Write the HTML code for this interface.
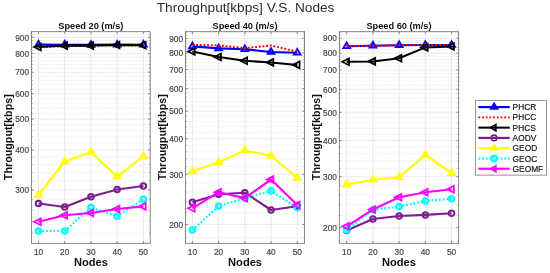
<!DOCTYPE html>
<html><head><meta charset="utf-8"><title>Throughput[kbps] V.S. Nodes</title>
<style>html,body{margin:0;padding:0;background:#fff;}svg{display:block;}</style></head>
<body>
<svg width="550" height="273" viewBox="0 0 550 273" font-family="'Liberation Sans', sans-serif">
<rect width="100%" height="100%" fill="#ffffff"/>
<text x="245.6" y="12.4" font-size="13.65" text-anchor="middle" fill="#2a2a2a">Throughput[kbps] V.S. Nodes</text>
<g>
<line x1="31.5" x2="150.2" y1="233.15" y2="233.15" stroke="#ebebeb" stroke-width="0.7" stroke-dasharray="2 1"/>
<line x1="31.5" x2="150.2" y1="221.05" y2="221.05" stroke="#ebebeb" stroke-width="0.7" stroke-dasharray="2 1"/>
<line x1="31.5" x2="150.2" y1="209.93" y2="209.93" stroke="#ebebeb" stroke-width="0.7" stroke-dasharray="2 1"/>
<line x1="31.5" x2="150.2" y1="199.63" y2="199.63" stroke="#ebebeb" stroke-width="0.7" stroke-dasharray="2 1"/>
<line x1="31.5" x2="150.2" y1="181.06" y2="181.06" stroke="#ebebeb" stroke-width="0.7" stroke-dasharray="2 1"/>
<line x1="31.5" x2="150.2" y1="172.64" y2="172.64" stroke="#ebebeb" stroke-width="0.7" stroke-dasharray="2 1"/>
<line x1="31.5" x2="150.2" y1="164.69" y2="164.69" stroke="#ebebeb" stroke-width="0.7" stroke-dasharray="2 1"/>
<line x1="31.5" x2="150.2" y1="157.18" y2="157.18" stroke="#ebebeb" stroke-width="0.7" stroke-dasharray="2 1"/>
<line x1="31.5" x2="150.2" y1="143.27" y2="143.27" stroke="#ebebeb" stroke-width="0.7" stroke-dasharray="2 1"/>
<line x1="31.5" x2="150.2" y1="136.80" y2="136.80" stroke="#ebebeb" stroke-width="0.7" stroke-dasharray="2 1"/>
<line x1="31.5" x2="150.2" y1="130.62" y2="130.62" stroke="#ebebeb" stroke-width="0.7" stroke-dasharray="2 1"/>
<line x1="31.5" x2="150.2" y1="124.70" y2="124.70" stroke="#ebebeb" stroke-width="0.7" stroke-dasharray="2 1"/>
<line x1="31.5" x2="150.2" y1="113.58" y2="113.58" stroke="#ebebeb" stroke-width="0.7" stroke-dasharray="2 1"/>
<line x1="31.5" x2="150.2" y1="108.33" y2="108.33" stroke="#ebebeb" stroke-width="0.7" stroke-dasharray="2 1"/>
<line x1="31.5" x2="150.2" y1="103.28" y2="103.28" stroke="#ebebeb" stroke-width="0.7" stroke-dasharray="2 1"/>
<line x1="31.5" x2="150.2" y1="98.40" y2="98.40" stroke="#ebebeb" stroke-width="0.7" stroke-dasharray="2 1"/>
<line x1="31.5" x2="150.2" y1="89.13" y2="89.13" stroke="#ebebeb" stroke-width="0.7" stroke-dasharray="2 1"/>
<line x1="31.5" x2="150.2" y1="84.72" y2="84.72" stroke="#ebebeb" stroke-width="0.7" stroke-dasharray="2 1"/>
<line x1="31.5" x2="150.2" y1="80.44" y2="80.44" stroke="#ebebeb" stroke-width="0.7" stroke-dasharray="2 1"/>
<line x1="31.5" x2="150.2" y1="76.29" y2="76.29" stroke="#ebebeb" stroke-width="0.7" stroke-dasharray="2 1"/>
<line x1="31.5" x2="150.2" y1="68.35" y2="68.35" stroke="#ebebeb" stroke-width="0.7" stroke-dasharray="2 1"/>
<line x1="31.5" x2="150.2" y1="64.54" y2="64.54" stroke="#ebebeb" stroke-width="0.7" stroke-dasharray="2 1"/>
<line x1="31.5" x2="150.2" y1="60.83" y2="60.83" stroke="#ebebeb" stroke-width="0.7" stroke-dasharray="2 1"/>
<line x1="31.5" x2="150.2" y1="57.22" y2="57.22" stroke="#ebebeb" stroke-width="0.7" stroke-dasharray="2 1"/>
<line x1="31.5" x2="150.2" y1="50.27" y2="50.27" stroke="#ebebeb" stroke-width="0.7" stroke-dasharray="2 1"/>
<line x1="31.5" x2="150.2" y1="46.92" y2="46.92" stroke="#ebebeb" stroke-width="0.7" stroke-dasharray="2 1"/>
<line x1="31.5" x2="150.2" y1="43.65" y2="43.65" stroke="#ebebeb" stroke-width="0.7" stroke-dasharray="2 1"/>
<line x1="31.5" x2="150.2" y1="40.45" y2="40.45" stroke="#ebebeb" stroke-width="0.7" stroke-dasharray="2 1"/>
<line x1="31.5" x2="150.2" y1="34.27" y2="34.27" stroke="#ebebeb" stroke-width="0.7" stroke-dasharray="2 1"/>
<line x1="31.5" x2="150.2" y1="190.04" y2="190.04" stroke="#e7e7e7" stroke-width="0.8"/>
<line x1="31.5" x2="150.2" y1="150.05" y2="150.05" stroke="#e7e7e7" stroke-width="0.8"/>
<line x1="31.5" x2="150.2" y1="119.03" y2="119.03" stroke="#e7e7e7" stroke-width="0.8"/>
<line x1="31.5" x2="150.2" y1="93.69" y2="93.69" stroke="#e7e7e7" stroke-width="0.8"/>
<line x1="31.5" x2="150.2" y1="72.26" y2="72.26" stroke="#e7e7e7" stroke-width="0.8"/>
<line x1="31.5" x2="150.2" y1="53.70" y2="53.70" stroke="#e7e7e7" stroke-width="0.8"/>
<line x1="31.5" x2="150.2" y1="37.33" y2="37.33" stroke="#e7e7e7" stroke-width="0.8"/>
<line x1="38.50" x2="38.50" y1="31.7" y2="243.3" stroke="#e2e2e2" stroke-width="0.8"/>
<line x1="64.72" x2="64.72" y1="31.7" y2="243.3" stroke="#e2e2e2" stroke-width="0.8"/>
<line x1="90.94" x2="90.94" y1="31.7" y2="243.3" stroke="#e2e2e2" stroke-width="0.8"/>
<line x1="117.16" x2="117.16" y1="31.7" y2="243.3" stroke="#e2e2e2" stroke-width="0.8"/>
<line x1="143.38" x2="143.38" y1="31.7" y2="243.3" stroke="#e2e2e2" stroke-width="0.8"/>
<polyline points="38.50,44.60 64.72,44.70 90.94,44.90 117.16,44.60 143.38,44.70" fill="none" stroke="#0000ff" stroke-width="2.15" stroke-linejoin="round"/>
<polygon points="38.50,40.91 35.22,46.43 41.78,46.43" fill="none" stroke="#0000ff" stroke-width="1.95" stroke-linejoin="miter"/>
<polygon points="64.72,41.01 61.44,46.53 68.00,46.53" fill="none" stroke="#0000ff" stroke-width="1.95" stroke-linejoin="miter"/>
<polygon points="90.94,41.21 87.66,46.73 94.22,46.73" fill="none" stroke="#0000ff" stroke-width="1.95" stroke-linejoin="miter"/>
<polygon points="117.16,40.91 113.88,46.43 120.44,46.43" fill="none" stroke="#0000ff" stroke-width="1.95" stroke-linejoin="miter"/>
<polygon points="143.38,41.01 140.10,46.53 146.66,46.53" fill="none" stroke="#0000ff" stroke-width="1.95" stroke-linejoin="miter"/>
<polyline points="38.50,47.20 64.72,46.20 90.94,46.00 117.16,45.20 143.38,45.40" fill="none" stroke="#ff0000" stroke-width="1.95" stroke-dasharray="1.9 1.8" stroke-linejoin="round"/>
<polyline points="38.50,47.00 64.72,45.60 90.94,45.60 117.16,45.00 143.38,45.20" fill="none" stroke="#000000" stroke-width="2.05" stroke-linejoin="round"/>
<polygon points="34.11,47.00 40.79,43.62 40.79,50.38" fill="none" stroke="#000000" stroke-width="1.75" stroke-linejoin="miter"/>
<polygon points="60.33,45.60 67.01,42.22 67.01,48.98" fill="none" stroke="#000000" stroke-width="1.75" stroke-linejoin="miter"/>
<polygon points="86.55,45.60 93.23,42.22 93.23,48.98" fill="none" stroke="#000000" stroke-width="1.75" stroke-linejoin="miter"/>
<polygon points="112.77,45.00 119.45,41.62 119.45,48.38" fill="none" stroke="#000000" stroke-width="1.75" stroke-linejoin="miter"/>
<polygon points="138.99,45.20 145.67,41.82 145.67,48.58" fill="none" stroke="#000000" stroke-width="1.75" stroke-linejoin="miter"/>
<polyline points="38.50,203.50 64.72,207.00 90.94,196.70 117.16,189.50 143.38,186.00" fill="none" stroke="#7e1e8e" stroke-width="2.15" stroke-linejoin="round"/>
<circle cx="38.50" cy="203.50" r="2.75" fill="none" stroke="#7e1e8e" stroke-width="2.00"/>
<circle cx="64.72" cy="207.00" r="2.75" fill="none" stroke="#7e1e8e" stroke-width="2.00"/>
<circle cx="90.94" cy="196.70" r="2.75" fill="none" stroke="#7e1e8e" stroke-width="2.00"/>
<circle cx="117.16" cy="189.50" r="2.75" fill="none" stroke="#7e1e8e" stroke-width="2.00"/>
<circle cx="143.38" cy="186.00" r="2.75" fill="none" stroke="#7e1e8e" stroke-width="2.00"/>
<polyline points="38.50,195.00 64.72,161.50 90.94,152.20 117.16,176.70 143.38,156.50" fill="none" stroke="#ffff00" stroke-width="2.15" stroke-linejoin="round"/>
<polygon points="38.50,191.31 35.22,196.82 41.78,196.82" fill="none" stroke="#ffff00" stroke-width="1.95" stroke-linejoin="miter"/>
<polygon points="64.72,157.81 61.44,163.32 68.00,163.32" fill="none" stroke="#ffff00" stroke-width="1.95" stroke-linejoin="miter"/>
<polygon points="90.94,148.51 87.66,154.02 94.22,154.02" fill="none" stroke="#ffff00" stroke-width="1.95" stroke-linejoin="miter"/>
<polygon points="117.16,173.01 113.88,178.52 120.44,178.52" fill="none" stroke="#ffff00" stroke-width="1.95" stroke-linejoin="miter"/>
<polygon points="143.38,152.81 140.10,158.32 146.66,158.32" fill="none" stroke="#ffff00" stroke-width="1.95" stroke-linejoin="miter"/>
<polyline points="38.50,231.00 64.72,231.00 90.94,207.50 117.16,216.30 143.38,199.30" fill="none" stroke="#00ffff" stroke-width="2.15" stroke-dasharray="1.9 1.8" stroke-linejoin="round"/>
<circle cx="38.50" cy="231.00" r="2.65" fill="none" stroke="#00ffff" stroke-width="2.30"/>
<circle cx="64.72" cy="231.00" r="2.65" fill="none" stroke="#00ffff" stroke-width="2.30"/>
<circle cx="90.94" cy="207.50" r="2.65" fill="none" stroke="#00ffff" stroke-width="2.30"/>
<circle cx="117.16" cy="216.30" r="2.65" fill="none" stroke="#00ffff" stroke-width="2.30"/>
<circle cx="143.38" cy="199.30" r="2.65" fill="none" stroke="#00ffff" stroke-width="2.30"/>
<polyline points="38.50,221.80 64.72,215.20 90.94,213.00 117.16,209.00 143.38,206.40" fill="none" stroke="#ff00ff" stroke-width="2.15" stroke-linejoin="round"/>
<polygon points="34.11,221.80 40.79,218.42 40.79,225.18" fill="none" stroke="#ff00ff" stroke-width="1.75" stroke-linejoin="miter"/>
<polygon points="60.33,215.20 67.01,211.82 67.01,218.58" fill="none" stroke="#ff00ff" stroke-width="1.75" stroke-linejoin="miter"/>
<polygon points="86.55,213.00 93.23,209.62 93.23,216.38" fill="none" stroke="#ff00ff" stroke-width="1.75" stroke-linejoin="miter"/>
<polygon points="112.77,209.00 119.45,205.62 119.45,212.38" fill="none" stroke="#ff00ff" stroke-width="1.75" stroke-linejoin="miter"/>
<polygon points="138.99,206.40 145.67,203.02 145.67,209.78" fill="none" stroke="#ff00ff" stroke-width="1.75" stroke-linejoin="miter"/>
<rect x="31.5" y="31.7" width="118.7" height="211.6" fill="none" stroke="#6a6a6a" stroke-width="0.8"/>
<line x1="38.50" x2="38.50" y1="243.3" y2="241.1" stroke="#6a6a6a" stroke-width="0.8"/>
<line x1="38.50" x2="38.50" y1="31.7" y2="33.9" stroke="#6a6a6a" stroke-width="0.8"/>
<line x1="64.72" x2="64.72" y1="243.3" y2="241.1" stroke="#6a6a6a" stroke-width="0.8"/>
<line x1="64.72" x2="64.72" y1="31.7" y2="33.9" stroke="#6a6a6a" stroke-width="0.8"/>
<line x1="90.94" x2="90.94" y1="243.3" y2="241.1" stroke="#6a6a6a" stroke-width="0.8"/>
<line x1="90.94" x2="90.94" y1="31.7" y2="33.9" stroke="#6a6a6a" stroke-width="0.8"/>
<line x1="117.16" x2="117.16" y1="243.3" y2="241.1" stroke="#6a6a6a" stroke-width="0.8"/>
<line x1="117.16" x2="117.16" y1="31.7" y2="33.9" stroke="#6a6a6a" stroke-width="0.8"/>
<line x1="143.38" x2="143.38" y1="243.3" y2="241.1" stroke="#6a6a6a" stroke-width="0.8"/>
<line x1="143.38" x2="143.38" y1="31.7" y2="33.9" stroke="#6a6a6a" stroke-width="0.8"/>
<line x1="31.5" x2="33.7" y1="190.04" y2="190.04" stroke="#6a6a6a" stroke-width="0.8"/>
<line x1="150.2" x2="148.0" y1="190.04" y2="190.04" stroke="#6a6a6a" stroke-width="0.8"/>
<line x1="31.5" x2="33.7" y1="150.05" y2="150.05" stroke="#6a6a6a" stroke-width="0.8"/>
<line x1="150.2" x2="148.0" y1="150.05" y2="150.05" stroke="#6a6a6a" stroke-width="0.8"/>
<line x1="31.5" x2="33.7" y1="119.03" y2="119.03" stroke="#6a6a6a" stroke-width="0.8"/>
<line x1="150.2" x2="148.0" y1="119.03" y2="119.03" stroke="#6a6a6a" stroke-width="0.8"/>
<line x1="31.5" x2="33.7" y1="93.69" y2="93.69" stroke="#6a6a6a" stroke-width="0.8"/>
<line x1="150.2" x2="148.0" y1="93.69" y2="93.69" stroke="#6a6a6a" stroke-width="0.8"/>
<line x1="31.5" x2="33.7" y1="72.26" y2="72.26" stroke="#6a6a6a" stroke-width="0.8"/>
<line x1="150.2" x2="148.0" y1="72.26" y2="72.26" stroke="#6a6a6a" stroke-width="0.8"/>
<line x1="31.5" x2="33.7" y1="53.70" y2="53.70" stroke="#6a6a6a" stroke-width="0.8"/>
<line x1="150.2" x2="148.0" y1="53.70" y2="53.70" stroke="#6a6a6a" stroke-width="0.8"/>
<line x1="31.5" x2="33.7" y1="37.33" y2="37.33" stroke="#6a6a6a" stroke-width="0.8"/>
<line x1="150.2" x2="148.0" y1="37.33" y2="37.33" stroke="#6a6a6a" stroke-width="0.8"/>
<line x1="31.5" x2="32.7" y1="233.15" y2="233.15" stroke="#6a6a6a" stroke-width="0.6"/>
<line x1="150.2" x2="149.0" y1="233.15" y2="233.15" stroke="#6a6a6a" stroke-width="0.6"/>
<line x1="31.5" x2="32.7" y1="221.05" y2="221.05" stroke="#6a6a6a" stroke-width="0.6"/>
<line x1="150.2" x2="149.0" y1="221.05" y2="221.05" stroke="#6a6a6a" stroke-width="0.6"/>
<line x1="31.5" x2="32.7" y1="209.93" y2="209.93" stroke="#6a6a6a" stroke-width="0.6"/>
<line x1="150.2" x2="149.0" y1="209.93" y2="209.93" stroke="#6a6a6a" stroke-width="0.6"/>
<line x1="31.5" x2="32.7" y1="199.63" y2="199.63" stroke="#6a6a6a" stroke-width="0.6"/>
<line x1="150.2" x2="149.0" y1="199.63" y2="199.63" stroke="#6a6a6a" stroke-width="0.6"/>
<line x1="31.5" x2="32.7" y1="181.06" y2="181.06" stroke="#6a6a6a" stroke-width="0.6"/>
<line x1="150.2" x2="149.0" y1="181.06" y2="181.06" stroke="#6a6a6a" stroke-width="0.6"/>
<line x1="31.5" x2="32.7" y1="172.64" y2="172.64" stroke="#6a6a6a" stroke-width="0.6"/>
<line x1="150.2" x2="149.0" y1="172.64" y2="172.64" stroke="#6a6a6a" stroke-width="0.6"/>
<line x1="31.5" x2="32.7" y1="164.69" y2="164.69" stroke="#6a6a6a" stroke-width="0.6"/>
<line x1="150.2" x2="149.0" y1="164.69" y2="164.69" stroke="#6a6a6a" stroke-width="0.6"/>
<line x1="31.5" x2="32.7" y1="157.18" y2="157.18" stroke="#6a6a6a" stroke-width="0.6"/>
<line x1="150.2" x2="149.0" y1="157.18" y2="157.18" stroke="#6a6a6a" stroke-width="0.6"/>
<line x1="31.5" x2="32.7" y1="143.27" y2="143.27" stroke="#6a6a6a" stroke-width="0.6"/>
<line x1="150.2" x2="149.0" y1="143.27" y2="143.27" stroke="#6a6a6a" stroke-width="0.6"/>
<line x1="31.5" x2="32.7" y1="136.80" y2="136.80" stroke="#6a6a6a" stroke-width="0.6"/>
<line x1="150.2" x2="149.0" y1="136.80" y2="136.80" stroke="#6a6a6a" stroke-width="0.6"/>
<line x1="31.5" x2="32.7" y1="130.62" y2="130.62" stroke="#6a6a6a" stroke-width="0.6"/>
<line x1="150.2" x2="149.0" y1="130.62" y2="130.62" stroke="#6a6a6a" stroke-width="0.6"/>
<line x1="31.5" x2="32.7" y1="124.70" y2="124.70" stroke="#6a6a6a" stroke-width="0.6"/>
<line x1="150.2" x2="149.0" y1="124.70" y2="124.70" stroke="#6a6a6a" stroke-width="0.6"/>
<line x1="31.5" x2="32.7" y1="113.58" y2="113.58" stroke="#6a6a6a" stroke-width="0.6"/>
<line x1="150.2" x2="149.0" y1="113.58" y2="113.58" stroke="#6a6a6a" stroke-width="0.6"/>
<line x1="31.5" x2="32.7" y1="108.33" y2="108.33" stroke="#6a6a6a" stroke-width="0.6"/>
<line x1="150.2" x2="149.0" y1="108.33" y2="108.33" stroke="#6a6a6a" stroke-width="0.6"/>
<line x1="31.5" x2="32.7" y1="103.28" y2="103.28" stroke="#6a6a6a" stroke-width="0.6"/>
<line x1="150.2" x2="149.0" y1="103.28" y2="103.28" stroke="#6a6a6a" stroke-width="0.6"/>
<line x1="31.5" x2="32.7" y1="98.40" y2="98.40" stroke="#6a6a6a" stroke-width="0.6"/>
<line x1="150.2" x2="149.0" y1="98.40" y2="98.40" stroke="#6a6a6a" stroke-width="0.6"/>
<line x1="31.5" x2="32.7" y1="89.13" y2="89.13" stroke="#6a6a6a" stroke-width="0.6"/>
<line x1="150.2" x2="149.0" y1="89.13" y2="89.13" stroke="#6a6a6a" stroke-width="0.6"/>
<line x1="31.5" x2="32.7" y1="84.72" y2="84.72" stroke="#6a6a6a" stroke-width="0.6"/>
<line x1="150.2" x2="149.0" y1="84.72" y2="84.72" stroke="#6a6a6a" stroke-width="0.6"/>
<line x1="31.5" x2="32.7" y1="80.44" y2="80.44" stroke="#6a6a6a" stroke-width="0.6"/>
<line x1="150.2" x2="149.0" y1="80.44" y2="80.44" stroke="#6a6a6a" stroke-width="0.6"/>
<line x1="31.5" x2="32.7" y1="76.29" y2="76.29" stroke="#6a6a6a" stroke-width="0.6"/>
<line x1="150.2" x2="149.0" y1="76.29" y2="76.29" stroke="#6a6a6a" stroke-width="0.6"/>
<line x1="31.5" x2="32.7" y1="68.35" y2="68.35" stroke="#6a6a6a" stroke-width="0.6"/>
<line x1="150.2" x2="149.0" y1="68.35" y2="68.35" stroke="#6a6a6a" stroke-width="0.6"/>
<line x1="31.5" x2="32.7" y1="64.54" y2="64.54" stroke="#6a6a6a" stroke-width="0.6"/>
<line x1="150.2" x2="149.0" y1="64.54" y2="64.54" stroke="#6a6a6a" stroke-width="0.6"/>
<line x1="31.5" x2="32.7" y1="60.83" y2="60.83" stroke="#6a6a6a" stroke-width="0.6"/>
<line x1="150.2" x2="149.0" y1="60.83" y2="60.83" stroke="#6a6a6a" stroke-width="0.6"/>
<line x1="31.5" x2="32.7" y1="57.22" y2="57.22" stroke="#6a6a6a" stroke-width="0.6"/>
<line x1="150.2" x2="149.0" y1="57.22" y2="57.22" stroke="#6a6a6a" stroke-width="0.6"/>
<line x1="31.5" x2="32.7" y1="50.27" y2="50.27" stroke="#6a6a6a" stroke-width="0.6"/>
<line x1="150.2" x2="149.0" y1="50.27" y2="50.27" stroke="#6a6a6a" stroke-width="0.6"/>
<line x1="31.5" x2="32.7" y1="46.92" y2="46.92" stroke="#6a6a6a" stroke-width="0.6"/>
<line x1="150.2" x2="149.0" y1="46.92" y2="46.92" stroke="#6a6a6a" stroke-width="0.6"/>
<line x1="31.5" x2="32.7" y1="43.65" y2="43.65" stroke="#6a6a6a" stroke-width="0.6"/>
<line x1="150.2" x2="149.0" y1="43.65" y2="43.65" stroke="#6a6a6a" stroke-width="0.6"/>
<line x1="31.5" x2="32.7" y1="40.45" y2="40.45" stroke="#6a6a6a" stroke-width="0.6"/>
<line x1="150.2" x2="149.0" y1="40.45" y2="40.45" stroke="#6a6a6a" stroke-width="0.6"/>
<line x1="31.5" x2="32.7" y1="34.27" y2="34.27" stroke="#6a6a6a" stroke-width="0.6"/>
<line x1="150.2" x2="149.0" y1="34.27" y2="34.27" stroke="#6a6a6a" stroke-width="0.6"/>
<text x="29.1" y="40.53" font-size="8.3" text-anchor="end" fill="#484848" stroke="#484848" stroke-width="0.2">900</text>
<text x="29.1" y="56.90" font-size="8.3" text-anchor="end" fill="#484848" stroke="#484848" stroke-width="0.2">800</text>
<text x="29.1" y="75.46" font-size="8.3" text-anchor="end" fill="#484848" stroke="#484848" stroke-width="0.2">700</text>
<text x="29.1" y="96.89" font-size="8.3" text-anchor="end" fill="#484848" stroke="#484848" stroke-width="0.2">600</text>
<text x="29.1" y="122.23" font-size="8.3" text-anchor="end" fill="#484848" stroke="#484848" stroke-width="0.2">500</text>
<text x="29.1" y="153.25" font-size="8.3" text-anchor="end" fill="#484848" stroke="#484848" stroke-width="0.2">400</text>
<text x="29.1" y="193.24" font-size="8.3" text-anchor="end" fill="#484848" stroke="#484848" stroke-width="0.2">300</text>
<text x="38.50" y="254.5" font-size="8.3" text-anchor="middle" fill="#484848" stroke="#484848" stroke-width="0.2">10</text>
<text x="64.72" y="254.5" font-size="8.3" text-anchor="middle" fill="#484848" stroke="#484848" stroke-width="0.2">20</text>
<text x="90.94" y="254.5" font-size="8.3" text-anchor="middle" fill="#484848" stroke="#484848" stroke-width="0.2">30</text>
<text x="117.16" y="254.5" font-size="8.3" text-anchor="middle" fill="#484848" stroke="#484848" stroke-width="0.2">40</text>
<text x="143.38" y="254.5" font-size="8.3" text-anchor="middle" fill="#484848" stroke="#484848" stroke-width="0.2">50</text>
<text x="90.85" y="29.1" font-size="9.23" font-weight="bold" text-anchor="middle" fill="#111">Speed 20 (m/s)</text>
<text x="90.85" y="266.3" font-size="11.1" font-weight="bold" text-anchor="middle" fill="#111">Nodes</text>
<text transform="translate(12.00,137.2) rotate(-90)" font-size="10.75" font-weight="bold" text-anchor="middle" fill="#111">Througput[kbps]</text>
</g>
<g>
<line x1="185.5" x2="304.6" y1="237.52" y2="237.52" stroke="#ebebeb" stroke-width="0.7" stroke-dasharray="2 1"/>
<line x1="185.5" x2="304.6" y1="212.69" y2="212.69" stroke="#ebebeb" stroke-width="0.7" stroke-dasharray="2 1"/>
<line x1="185.5" x2="304.6" y1="201.93" y2="201.93" stroke="#ebebeb" stroke-width="0.7" stroke-dasharray="2 1"/>
<line x1="185.5" x2="304.6" y1="192.03" y2="192.03" stroke="#ebebeb" stroke-width="0.7" stroke-dasharray="2 1"/>
<line x1="185.5" x2="304.6" y1="182.86" y2="182.86" stroke="#ebebeb" stroke-width="0.7" stroke-dasharray="2 1"/>
<line x1="185.5" x2="304.6" y1="166.35" y2="166.35" stroke="#ebebeb" stroke-width="0.7" stroke-dasharray="2 1"/>
<line x1="185.5" x2="304.6" y1="158.85" y2="158.85" stroke="#ebebeb" stroke-width="0.7" stroke-dasharray="2 1"/>
<line x1="185.5" x2="304.6" y1="151.78" y2="151.78" stroke="#ebebeb" stroke-width="0.7" stroke-dasharray="2 1"/>
<line x1="185.5" x2="304.6" y1="145.09" y2="145.09" stroke="#ebebeb" stroke-width="0.7" stroke-dasharray="2 1"/>
<line x1="185.5" x2="304.6" y1="132.71" y2="132.71" stroke="#ebebeb" stroke-width="0.7" stroke-dasharray="2 1"/>
<line x1="185.5" x2="304.6" y1="126.95" y2="126.95" stroke="#ebebeb" stroke-width="0.7" stroke-dasharray="2 1"/>
<line x1="185.5" x2="304.6" y1="121.45" y2="121.45" stroke="#ebebeb" stroke-width="0.7" stroke-dasharray="2 1"/>
<line x1="185.5" x2="304.6" y1="116.19" y2="116.19" stroke="#ebebeb" stroke-width="0.7" stroke-dasharray="2 1"/>
<line x1="185.5" x2="304.6" y1="106.29" y2="106.29" stroke="#ebebeb" stroke-width="0.7" stroke-dasharray="2 1"/>
<line x1="185.5" x2="304.6" y1="101.62" y2="101.62" stroke="#ebebeb" stroke-width="0.7" stroke-dasharray="2 1"/>
<line x1="185.5" x2="304.6" y1="97.12" y2="97.12" stroke="#ebebeb" stroke-width="0.7" stroke-dasharray="2 1"/>
<line x1="185.5" x2="304.6" y1="92.78" y2="92.78" stroke="#ebebeb" stroke-width="0.7" stroke-dasharray="2 1"/>
<line x1="185.5" x2="304.6" y1="84.53" y2="84.53" stroke="#ebebeb" stroke-width="0.7" stroke-dasharray="2 1"/>
<line x1="185.5" x2="304.6" y1="80.60" y2="80.60" stroke="#ebebeb" stroke-width="0.7" stroke-dasharray="2 1"/>
<line x1="185.5" x2="304.6" y1="76.80" y2="76.80" stroke="#ebebeb" stroke-width="0.7" stroke-dasharray="2 1"/>
<line x1="185.5" x2="304.6" y1="73.10" y2="73.10" stroke="#ebebeb" stroke-width="0.7" stroke-dasharray="2 1"/>
<line x1="185.5" x2="304.6" y1="66.03" y2="66.03" stroke="#ebebeb" stroke-width="0.7" stroke-dasharray="2 1"/>
<line x1="185.5" x2="304.6" y1="62.64" y2="62.64" stroke="#ebebeb" stroke-width="0.7" stroke-dasharray="2 1"/>
<line x1="185.5" x2="304.6" y1="59.34" y2="59.34" stroke="#ebebeb" stroke-width="0.7" stroke-dasharray="2 1"/>
<line x1="185.5" x2="304.6" y1="56.13" y2="56.13" stroke="#ebebeb" stroke-width="0.7" stroke-dasharray="2 1"/>
<line x1="185.5" x2="304.6" y1="49.95" y2="49.95" stroke="#ebebeb" stroke-width="0.7" stroke-dasharray="2 1"/>
<line x1="185.5" x2="304.6" y1="46.96" y2="46.96" stroke="#ebebeb" stroke-width="0.7" stroke-dasharray="2 1"/>
<line x1="185.5" x2="304.6" y1="44.05" y2="44.05" stroke="#ebebeb" stroke-width="0.7" stroke-dasharray="2 1"/>
<line x1="185.5" x2="304.6" y1="41.21" y2="41.21" stroke="#ebebeb" stroke-width="0.7" stroke-dasharray="2 1"/>
<line x1="185.5" x2="304.6" y1="35.71" y2="35.71" stroke="#ebebeb" stroke-width="0.7" stroke-dasharray="2 1"/>
<line x1="185.5" x2="304.6" y1="33.05" y2="33.05" stroke="#ebebeb" stroke-width="0.7" stroke-dasharray="2 1"/>
<line x1="185.5" x2="304.6" y1="224.48" y2="224.48" stroke="#e7e7e7" stroke-width="0.8"/>
<line x1="185.5" x2="304.6" y1="174.33" y2="174.33" stroke="#e7e7e7" stroke-width="0.8"/>
<line x1="185.5" x2="304.6" y1="138.74" y2="138.74" stroke="#e7e7e7" stroke-width="0.8"/>
<line x1="185.5" x2="304.6" y1="111.14" y2="111.14" stroke="#e7e7e7" stroke-width="0.8"/>
<line x1="185.5" x2="304.6" y1="88.59" y2="88.59" stroke="#e7e7e7" stroke-width="0.8"/>
<line x1="185.5" x2="304.6" y1="69.52" y2="69.52" stroke="#e7e7e7" stroke-width="0.8"/>
<line x1="185.5" x2="304.6" y1="53.00" y2="53.00" stroke="#e7e7e7" stroke-width="0.8"/>
<line x1="185.5" x2="304.6" y1="38.43" y2="38.43" stroke="#e7e7e7" stroke-width="0.8"/>
<line x1="192.40" x2="192.40" y1="31.7" y2="243.3" stroke="#e2e2e2" stroke-width="0.8"/>
<line x1="218.62" x2="218.62" y1="31.7" y2="243.3" stroke="#e2e2e2" stroke-width="0.8"/>
<line x1="244.84" x2="244.84" y1="31.7" y2="243.3" stroke="#e2e2e2" stroke-width="0.8"/>
<line x1="271.06" x2="271.06" y1="31.7" y2="243.3" stroke="#e2e2e2" stroke-width="0.8"/>
<line x1="297.28" x2="297.28" y1="31.7" y2="243.3" stroke="#e2e2e2" stroke-width="0.8"/>
<polyline points="192.40,46.40 218.62,48.40 244.84,49.30 271.06,52.00 297.28,52.80" fill="none" stroke="#0000ff" stroke-width="2.15" stroke-linejoin="round"/>
<polygon points="192.40,42.71 189.12,48.23 195.68,48.23" fill="none" stroke="#0000ff" stroke-width="1.95" stroke-linejoin="miter"/>
<polygon points="218.62,44.71 215.34,50.23 221.90,50.23" fill="none" stroke="#0000ff" stroke-width="1.95" stroke-linejoin="miter"/>
<polygon points="244.84,45.61 241.56,51.12 248.12,51.12" fill="none" stroke="#0000ff" stroke-width="1.95" stroke-linejoin="miter"/>
<polygon points="271.06,48.31 267.78,53.83 274.34,53.83" fill="none" stroke="#0000ff" stroke-width="1.95" stroke-linejoin="miter"/>
<polygon points="297.28,49.11 294.00,54.62 300.56,54.62" fill="none" stroke="#0000ff" stroke-width="1.95" stroke-linejoin="miter"/>
<polyline points="192.40,44.90 218.62,45.40 244.84,48.20 271.06,45.50 297.28,51.70" fill="none" stroke="#ff0000" stroke-width="1.95" stroke-dasharray="1.9 1.8" stroke-linejoin="round"/>
<polyline points="192.40,51.50 218.62,57.00 244.84,60.80 271.06,62.40 297.28,64.90" fill="none" stroke="#000000" stroke-width="2.05" stroke-linejoin="round"/>
<polygon points="188.01,51.50 194.69,48.12 194.69,54.88" fill="none" stroke="#000000" stroke-width="1.75" stroke-linejoin="miter"/>
<polygon points="214.23,57.00 220.91,53.62 220.91,60.38" fill="none" stroke="#000000" stroke-width="1.75" stroke-linejoin="miter"/>
<polygon points="240.45,60.80 247.13,57.42 247.13,64.18" fill="none" stroke="#000000" stroke-width="1.75" stroke-linejoin="miter"/>
<polygon points="266.67,62.40 273.35,59.02 273.35,65.78" fill="none" stroke="#000000" stroke-width="1.75" stroke-linejoin="miter"/>
<polygon points="292.89,64.90 299.57,61.52 299.57,68.28" fill="none" stroke="#000000" stroke-width="1.75" stroke-linejoin="miter"/>
<polyline points="192.40,202.30 218.62,194.30 244.84,192.70 271.06,210.00 297.28,206.30" fill="none" stroke="#7e1e8e" stroke-width="2.15" stroke-linejoin="round"/>
<circle cx="192.40" cy="202.30" r="2.75" fill="none" stroke="#7e1e8e" stroke-width="2.00"/>
<circle cx="218.62" cy="194.30" r="2.75" fill="none" stroke="#7e1e8e" stroke-width="2.00"/>
<circle cx="244.84" cy="192.70" r="2.75" fill="none" stroke="#7e1e8e" stroke-width="2.00"/>
<circle cx="271.06" cy="210.00" r="2.75" fill="none" stroke="#7e1e8e" stroke-width="2.00"/>
<circle cx="297.28" cy="206.30" r="2.75" fill="none" stroke="#7e1e8e" stroke-width="2.00"/>
<polyline points="192.40,171.40 218.62,162.20 244.84,150.50 271.06,156.00 297.28,178.00" fill="none" stroke="#ffff00" stroke-width="2.15" stroke-linejoin="round"/>
<polygon points="192.40,167.71 189.12,173.22 195.68,173.22" fill="none" stroke="#ffff00" stroke-width="1.95" stroke-linejoin="miter"/>
<polygon points="218.62,158.51 215.34,164.02 221.90,164.02" fill="none" stroke="#ffff00" stroke-width="1.95" stroke-linejoin="miter"/>
<polygon points="244.84,146.81 241.56,152.32 248.12,152.32" fill="none" stroke="#ffff00" stroke-width="1.95" stroke-linejoin="miter"/>
<polygon points="271.06,152.31 267.78,157.82 274.34,157.82" fill="none" stroke="#ffff00" stroke-width="1.95" stroke-linejoin="miter"/>
<polygon points="297.28,174.31 294.00,179.82 300.56,179.82" fill="none" stroke="#ffff00" stroke-width="1.95" stroke-linejoin="miter"/>
<polyline points="192.40,230.00 218.62,206.20 244.84,198.20 271.06,190.90 297.28,207.80" fill="none" stroke="#00ffff" stroke-width="2.15" stroke-dasharray="1.9 1.8" stroke-linejoin="round"/>
<circle cx="192.40" cy="230.00" r="2.65" fill="none" stroke="#00ffff" stroke-width="2.30"/>
<circle cx="218.62" cy="206.20" r="2.65" fill="none" stroke="#00ffff" stroke-width="2.30"/>
<circle cx="244.84" cy="198.20" r="2.65" fill="none" stroke="#00ffff" stroke-width="2.30"/>
<circle cx="271.06" cy="190.90" r="2.65" fill="none" stroke="#00ffff" stroke-width="2.30"/>
<circle cx="297.28" cy="207.80" r="2.65" fill="none" stroke="#00ffff" stroke-width="2.30"/>
<polyline points="192.40,208.30 218.62,192.20 244.84,198.10 271.06,179.50 297.28,205.00" fill="none" stroke="#ff00ff" stroke-width="2.15" stroke-linejoin="round"/>
<polygon points="188.01,208.30 194.69,204.92 194.69,211.68" fill="none" stroke="#ff00ff" stroke-width="1.75" stroke-linejoin="miter"/>
<polygon points="214.23,192.20 220.91,188.82 220.91,195.58" fill="none" stroke="#ff00ff" stroke-width="1.75" stroke-linejoin="miter"/>
<polygon points="240.45,198.10 247.13,194.72 247.13,201.48" fill="none" stroke="#ff00ff" stroke-width="1.75" stroke-linejoin="miter"/>
<polygon points="266.67,179.50 273.35,176.12 273.35,182.88" fill="none" stroke="#ff00ff" stroke-width="1.75" stroke-linejoin="miter"/>
<polygon points="292.89,205.00 299.57,201.62 299.57,208.38" fill="none" stroke="#ff00ff" stroke-width="1.75" stroke-linejoin="miter"/>
<rect x="185.5" y="31.7" width="119.1" height="211.6" fill="none" stroke="#6a6a6a" stroke-width="0.8"/>
<line x1="192.40" x2="192.40" y1="243.3" y2="241.1" stroke="#6a6a6a" stroke-width="0.8"/>
<line x1="192.40" x2="192.40" y1="31.7" y2="33.9" stroke="#6a6a6a" stroke-width="0.8"/>
<line x1="218.62" x2="218.62" y1="243.3" y2="241.1" stroke="#6a6a6a" stroke-width="0.8"/>
<line x1="218.62" x2="218.62" y1="31.7" y2="33.9" stroke="#6a6a6a" stroke-width="0.8"/>
<line x1="244.84" x2="244.84" y1="243.3" y2="241.1" stroke="#6a6a6a" stroke-width="0.8"/>
<line x1="244.84" x2="244.84" y1="31.7" y2="33.9" stroke="#6a6a6a" stroke-width="0.8"/>
<line x1="271.06" x2="271.06" y1="243.3" y2="241.1" stroke="#6a6a6a" stroke-width="0.8"/>
<line x1="271.06" x2="271.06" y1="31.7" y2="33.9" stroke="#6a6a6a" stroke-width="0.8"/>
<line x1="297.28" x2="297.28" y1="243.3" y2="241.1" stroke="#6a6a6a" stroke-width="0.8"/>
<line x1="297.28" x2="297.28" y1="31.7" y2="33.9" stroke="#6a6a6a" stroke-width="0.8"/>
<line x1="185.5" x2="187.7" y1="224.48" y2="224.48" stroke="#6a6a6a" stroke-width="0.8"/>
<line x1="304.6" x2="302.4" y1="224.48" y2="224.48" stroke="#6a6a6a" stroke-width="0.8"/>
<line x1="185.5" x2="187.7" y1="174.33" y2="174.33" stroke="#6a6a6a" stroke-width="0.8"/>
<line x1="304.6" x2="302.4" y1="174.33" y2="174.33" stroke="#6a6a6a" stroke-width="0.8"/>
<line x1="185.5" x2="187.7" y1="138.74" y2="138.74" stroke="#6a6a6a" stroke-width="0.8"/>
<line x1="304.6" x2="302.4" y1="138.74" y2="138.74" stroke="#6a6a6a" stroke-width="0.8"/>
<line x1="185.5" x2="187.7" y1="111.14" y2="111.14" stroke="#6a6a6a" stroke-width="0.8"/>
<line x1="304.6" x2="302.4" y1="111.14" y2="111.14" stroke="#6a6a6a" stroke-width="0.8"/>
<line x1="185.5" x2="187.7" y1="88.59" y2="88.59" stroke="#6a6a6a" stroke-width="0.8"/>
<line x1="304.6" x2="302.4" y1="88.59" y2="88.59" stroke="#6a6a6a" stroke-width="0.8"/>
<line x1="185.5" x2="187.7" y1="69.52" y2="69.52" stroke="#6a6a6a" stroke-width="0.8"/>
<line x1="304.6" x2="302.4" y1="69.52" y2="69.52" stroke="#6a6a6a" stroke-width="0.8"/>
<line x1="185.5" x2="187.7" y1="53.00" y2="53.00" stroke="#6a6a6a" stroke-width="0.8"/>
<line x1="304.6" x2="302.4" y1="53.00" y2="53.00" stroke="#6a6a6a" stroke-width="0.8"/>
<line x1="185.5" x2="187.7" y1="38.43" y2="38.43" stroke="#6a6a6a" stroke-width="0.8"/>
<line x1="304.6" x2="302.4" y1="38.43" y2="38.43" stroke="#6a6a6a" stroke-width="0.8"/>
<line x1="185.5" x2="186.7" y1="237.52" y2="237.52" stroke="#6a6a6a" stroke-width="0.6"/>
<line x1="304.6" x2="303.4" y1="237.52" y2="237.52" stroke="#6a6a6a" stroke-width="0.6"/>
<line x1="185.5" x2="186.7" y1="212.69" y2="212.69" stroke="#6a6a6a" stroke-width="0.6"/>
<line x1="304.6" x2="303.4" y1="212.69" y2="212.69" stroke="#6a6a6a" stroke-width="0.6"/>
<line x1="185.5" x2="186.7" y1="201.93" y2="201.93" stroke="#6a6a6a" stroke-width="0.6"/>
<line x1="304.6" x2="303.4" y1="201.93" y2="201.93" stroke="#6a6a6a" stroke-width="0.6"/>
<line x1="185.5" x2="186.7" y1="192.03" y2="192.03" stroke="#6a6a6a" stroke-width="0.6"/>
<line x1="304.6" x2="303.4" y1="192.03" y2="192.03" stroke="#6a6a6a" stroke-width="0.6"/>
<line x1="185.5" x2="186.7" y1="182.86" y2="182.86" stroke="#6a6a6a" stroke-width="0.6"/>
<line x1="304.6" x2="303.4" y1="182.86" y2="182.86" stroke="#6a6a6a" stroke-width="0.6"/>
<line x1="185.5" x2="186.7" y1="166.35" y2="166.35" stroke="#6a6a6a" stroke-width="0.6"/>
<line x1="304.6" x2="303.4" y1="166.35" y2="166.35" stroke="#6a6a6a" stroke-width="0.6"/>
<line x1="185.5" x2="186.7" y1="158.85" y2="158.85" stroke="#6a6a6a" stroke-width="0.6"/>
<line x1="304.6" x2="303.4" y1="158.85" y2="158.85" stroke="#6a6a6a" stroke-width="0.6"/>
<line x1="185.5" x2="186.7" y1="151.78" y2="151.78" stroke="#6a6a6a" stroke-width="0.6"/>
<line x1="304.6" x2="303.4" y1="151.78" y2="151.78" stroke="#6a6a6a" stroke-width="0.6"/>
<line x1="185.5" x2="186.7" y1="145.09" y2="145.09" stroke="#6a6a6a" stroke-width="0.6"/>
<line x1="304.6" x2="303.4" y1="145.09" y2="145.09" stroke="#6a6a6a" stroke-width="0.6"/>
<line x1="185.5" x2="186.7" y1="132.71" y2="132.71" stroke="#6a6a6a" stroke-width="0.6"/>
<line x1="304.6" x2="303.4" y1="132.71" y2="132.71" stroke="#6a6a6a" stroke-width="0.6"/>
<line x1="185.5" x2="186.7" y1="126.95" y2="126.95" stroke="#6a6a6a" stroke-width="0.6"/>
<line x1="304.6" x2="303.4" y1="126.95" y2="126.95" stroke="#6a6a6a" stroke-width="0.6"/>
<line x1="185.5" x2="186.7" y1="121.45" y2="121.45" stroke="#6a6a6a" stroke-width="0.6"/>
<line x1="304.6" x2="303.4" y1="121.45" y2="121.45" stroke="#6a6a6a" stroke-width="0.6"/>
<line x1="185.5" x2="186.7" y1="116.19" y2="116.19" stroke="#6a6a6a" stroke-width="0.6"/>
<line x1="304.6" x2="303.4" y1="116.19" y2="116.19" stroke="#6a6a6a" stroke-width="0.6"/>
<line x1="185.5" x2="186.7" y1="106.29" y2="106.29" stroke="#6a6a6a" stroke-width="0.6"/>
<line x1="304.6" x2="303.4" y1="106.29" y2="106.29" stroke="#6a6a6a" stroke-width="0.6"/>
<line x1="185.5" x2="186.7" y1="101.62" y2="101.62" stroke="#6a6a6a" stroke-width="0.6"/>
<line x1="304.6" x2="303.4" y1="101.62" y2="101.62" stroke="#6a6a6a" stroke-width="0.6"/>
<line x1="185.5" x2="186.7" y1="97.12" y2="97.12" stroke="#6a6a6a" stroke-width="0.6"/>
<line x1="304.6" x2="303.4" y1="97.12" y2="97.12" stroke="#6a6a6a" stroke-width="0.6"/>
<line x1="185.5" x2="186.7" y1="92.78" y2="92.78" stroke="#6a6a6a" stroke-width="0.6"/>
<line x1="304.6" x2="303.4" y1="92.78" y2="92.78" stroke="#6a6a6a" stroke-width="0.6"/>
<line x1="185.5" x2="186.7" y1="84.53" y2="84.53" stroke="#6a6a6a" stroke-width="0.6"/>
<line x1="304.6" x2="303.4" y1="84.53" y2="84.53" stroke="#6a6a6a" stroke-width="0.6"/>
<line x1="185.5" x2="186.7" y1="80.60" y2="80.60" stroke="#6a6a6a" stroke-width="0.6"/>
<line x1="304.6" x2="303.4" y1="80.60" y2="80.60" stroke="#6a6a6a" stroke-width="0.6"/>
<line x1="185.5" x2="186.7" y1="76.80" y2="76.80" stroke="#6a6a6a" stroke-width="0.6"/>
<line x1="304.6" x2="303.4" y1="76.80" y2="76.80" stroke="#6a6a6a" stroke-width="0.6"/>
<line x1="185.5" x2="186.7" y1="73.10" y2="73.10" stroke="#6a6a6a" stroke-width="0.6"/>
<line x1="304.6" x2="303.4" y1="73.10" y2="73.10" stroke="#6a6a6a" stroke-width="0.6"/>
<line x1="185.5" x2="186.7" y1="66.03" y2="66.03" stroke="#6a6a6a" stroke-width="0.6"/>
<line x1="304.6" x2="303.4" y1="66.03" y2="66.03" stroke="#6a6a6a" stroke-width="0.6"/>
<line x1="185.5" x2="186.7" y1="62.64" y2="62.64" stroke="#6a6a6a" stroke-width="0.6"/>
<line x1="304.6" x2="303.4" y1="62.64" y2="62.64" stroke="#6a6a6a" stroke-width="0.6"/>
<line x1="185.5" x2="186.7" y1="59.34" y2="59.34" stroke="#6a6a6a" stroke-width="0.6"/>
<line x1="304.6" x2="303.4" y1="59.34" y2="59.34" stroke="#6a6a6a" stroke-width="0.6"/>
<line x1="185.5" x2="186.7" y1="56.13" y2="56.13" stroke="#6a6a6a" stroke-width="0.6"/>
<line x1="304.6" x2="303.4" y1="56.13" y2="56.13" stroke="#6a6a6a" stroke-width="0.6"/>
<line x1="185.5" x2="186.7" y1="49.95" y2="49.95" stroke="#6a6a6a" stroke-width="0.6"/>
<line x1="304.6" x2="303.4" y1="49.95" y2="49.95" stroke="#6a6a6a" stroke-width="0.6"/>
<line x1="185.5" x2="186.7" y1="46.96" y2="46.96" stroke="#6a6a6a" stroke-width="0.6"/>
<line x1="304.6" x2="303.4" y1="46.96" y2="46.96" stroke="#6a6a6a" stroke-width="0.6"/>
<line x1="185.5" x2="186.7" y1="44.05" y2="44.05" stroke="#6a6a6a" stroke-width="0.6"/>
<line x1="304.6" x2="303.4" y1="44.05" y2="44.05" stroke="#6a6a6a" stroke-width="0.6"/>
<line x1="185.5" x2="186.7" y1="41.21" y2="41.21" stroke="#6a6a6a" stroke-width="0.6"/>
<line x1="304.6" x2="303.4" y1="41.21" y2="41.21" stroke="#6a6a6a" stroke-width="0.6"/>
<line x1="185.5" x2="186.7" y1="35.71" y2="35.71" stroke="#6a6a6a" stroke-width="0.6"/>
<line x1="304.6" x2="303.4" y1="35.71" y2="35.71" stroke="#6a6a6a" stroke-width="0.6"/>
<line x1="185.5" x2="186.7" y1="33.05" y2="33.05" stroke="#6a6a6a" stroke-width="0.6"/>
<line x1="304.6" x2="303.4" y1="33.05" y2="33.05" stroke="#6a6a6a" stroke-width="0.6"/>
<text x="183.1" y="41.63" font-size="8.3" text-anchor="end" fill="#484848" stroke="#484848" stroke-width="0.2">900</text>
<text x="183.1" y="56.20" font-size="8.3" text-anchor="end" fill="#484848" stroke="#484848" stroke-width="0.2">800</text>
<text x="183.1" y="72.72" font-size="8.3" text-anchor="end" fill="#484848" stroke="#484848" stroke-width="0.2">700</text>
<text x="183.1" y="91.79" font-size="8.3" text-anchor="end" fill="#484848" stroke="#484848" stroke-width="0.2">600</text>
<text x="183.1" y="114.34" font-size="8.3" text-anchor="end" fill="#484848" stroke="#484848" stroke-width="0.2">500</text>
<text x="183.1" y="141.94" font-size="8.3" text-anchor="end" fill="#484848" stroke="#484848" stroke-width="0.2">400</text>
<text x="183.1" y="177.53" font-size="8.3" text-anchor="end" fill="#484848" stroke="#484848" stroke-width="0.2">300</text>
<text x="183.1" y="227.68" font-size="8.3" text-anchor="end" fill="#484848" stroke="#484848" stroke-width="0.2">200</text>
<text x="192.40" y="254.5" font-size="8.3" text-anchor="middle" fill="#484848" stroke="#484848" stroke-width="0.2">10</text>
<text x="218.62" y="254.5" font-size="8.3" text-anchor="middle" fill="#484848" stroke="#484848" stroke-width="0.2">20</text>
<text x="244.84" y="254.5" font-size="8.3" text-anchor="middle" fill="#484848" stroke="#484848" stroke-width="0.2">30</text>
<text x="271.06" y="254.5" font-size="8.3" text-anchor="middle" fill="#484848" stroke="#484848" stroke-width="0.2">40</text>
<text x="297.28" y="254.5" font-size="8.3" text-anchor="middle" fill="#484848" stroke="#484848" stroke-width="0.2">50</text>
<text x="245.05" y="29.1" font-size="9.23" font-weight="bold" text-anchor="middle" fill="#111">Speed 40 (m/s)</text>
<text x="245.05" y="266.3" font-size="11.1" font-weight="bold" text-anchor="middle" fill="#111">Nodes</text>
<text transform="translate(166.00,137.2) rotate(-90)" font-size="10.75" font-weight="bold" text-anchor="middle" fill="#111">Througput[kbps]</text>
</g>
<g>
<line x1="339.3" x2="458.7" y1="241.05" y2="241.05" stroke="#ebebeb" stroke-width="0.7" stroke-dasharray="2 1"/>
<line x1="339.3" x2="458.7" y1="215.76" y2="215.76" stroke="#ebebeb" stroke-width="0.7" stroke-dasharray="2 1"/>
<line x1="339.3" x2="458.7" y1="204.80" y2="204.80" stroke="#ebebeb" stroke-width="0.7" stroke-dasharray="2 1"/>
<line x1="339.3" x2="458.7" y1="194.72" y2="194.72" stroke="#ebebeb" stroke-width="0.7" stroke-dasharray="2 1"/>
<line x1="339.3" x2="458.7" y1="185.38" y2="185.38" stroke="#ebebeb" stroke-width="0.7" stroke-dasharray="2 1"/>
<line x1="339.3" x2="458.7" y1="168.55" y2="168.55" stroke="#ebebeb" stroke-width="0.7" stroke-dasharray="2 1"/>
<line x1="339.3" x2="458.7" y1="160.91" y2="160.91" stroke="#ebebeb" stroke-width="0.7" stroke-dasharray="2 1"/>
<line x1="339.3" x2="458.7" y1="153.71" y2="153.71" stroke="#ebebeb" stroke-width="0.7" stroke-dasharray="2 1"/>
<line x1="339.3" x2="458.7" y1="146.90" y2="146.90" stroke="#ebebeb" stroke-width="0.7" stroke-dasharray="2 1"/>
<line x1="339.3" x2="458.7" y1="134.29" y2="134.29" stroke="#ebebeb" stroke-width="0.7" stroke-dasharray="2 1"/>
<line x1="339.3" x2="458.7" y1="128.43" y2="128.43" stroke="#ebebeb" stroke-width="0.7" stroke-dasharray="2 1"/>
<line x1="339.3" x2="458.7" y1="122.83" y2="122.83" stroke="#ebebeb" stroke-width="0.7" stroke-dasharray="2 1"/>
<line x1="339.3" x2="458.7" y1="117.46" y2="117.46" stroke="#ebebeb" stroke-width="0.7" stroke-dasharray="2 1"/>
<line x1="339.3" x2="458.7" y1="107.38" y2="107.38" stroke="#ebebeb" stroke-width="0.7" stroke-dasharray="2 1"/>
<line x1="339.3" x2="458.7" y1="102.62" y2="102.62" stroke="#ebebeb" stroke-width="0.7" stroke-dasharray="2 1"/>
<line x1="339.3" x2="458.7" y1="98.04" y2="98.04" stroke="#ebebeb" stroke-width="0.7" stroke-dasharray="2 1"/>
<line x1="339.3" x2="458.7" y1="93.62" y2="93.62" stroke="#ebebeb" stroke-width="0.7" stroke-dasharray="2 1"/>
<line x1="339.3" x2="458.7" y1="85.22" y2="85.22" stroke="#ebebeb" stroke-width="0.7" stroke-dasharray="2 1"/>
<line x1="339.3" x2="458.7" y1="81.22" y2="81.22" stroke="#ebebeb" stroke-width="0.7" stroke-dasharray="2 1"/>
<line x1="339.3" x2="458.7" y1="77.34" y2="77.34" stroke="#ebebeb" stroke-width="0.7" stroke-dasharray="2 1"/>
<line x1="339.3" x2="458.7" y1="73.58" y2="73.58" stroke="#ebebeb" stroke-width="0.7" stroke-dasharray="2 1"/>
<line x1="339.3" x2="458.7" y1="66.38" y2="66.38" stroke="#ebebeb" stroke-width="0.7" stroke-dasharray="2 1"/>
<line x1="339.3" x2="458.7" y1="62.92" y2="62.92" stroke="#ebebeb" stroke-width="0.7" stroke-dasharray="2 1"/>
<line x1="339.3" x2="458.7" y1="59.56" y2="59.56" stroke="#ebebeb" stroke-width="0.7" stroke-dasharray="2 1"/>
<line x1="339.3" x2="458.7" y1="56.29" y2="56.29" stroke="#ebebeb" stroke-width="0.7" stroke-dasharray="2 1"/>
<line x1="339.3" x2="458.7" y1="49.99" y2="49.99" stroke="#ebebeb" stroke-width="0.7" stroke-dasharray="2 1"/>
<line x1="339.3" x2="458.7" y1="46.95" y2="46.95" stroke="#ebebeb" stroke-width="0.7" stroke-dasharray="2 1"/>
<line x1="339.3" x2="458.7" y1="43.99" y2="43.99" stroke="#ebebeb" stroke-width="0.7" stroke-dasharray="2 1"/>
<line x1="339.3" x2="458.7" y1="41.09" y2="41.09" stroke="#ebebeb" stroke-width="0.7" stroke-dasharray="2 1"/>
<line x1="339.3" x2="458.7" y1="35.49" y2="35.49" stroke="#ebebeb" stroke-width="0.7" stroke-dasharray="2 1"/>
<line x1="339.3" x2="458.7" y1="32.78" y2="32.78" stroke="#ebebeb" stroke-width="0.7" stroke-dasharray="2 1"/>
<line x1="339.3" x2="458.7" y1="227.77" y2="227.77" stroke="#e7e7e7" stroke-width="0.8"/>
<line x1="339.3" x2="458.7" y1="176.68" y2="176.68" stroke="#e7e7e7" stroke-width="0.8"/>
<line x1="339.3" x2="458.7" y1="140.44" y2="140.44" stroke="#e7e7e7" stroke-width="0.8"/>
<line x1="339.3" x2="458.7" y1="112.32" y2="112.32" stroke="#e7e7e7" stroke-width="0.8"/>
<line x1="339.3" x2="458.7" y1="89.35" y2="89.35" stroke="#e7e7e7" stroke-width="0.8"/>
<line x1="339.3" x2="458.7" y1="69.92" y2="69.92" stroke="#e7e7e7" stroke-width="0.8"/>
<line x1="339.3" x2="458.7" y1="53.10" y2="53.10" stroke="#e7e7e7" stroke-width="0.8"/>
<line x1="339.3" x2="458.7" y1="38.26" y2="38.26" stroke="#e7e7e7" stroke-width="0.8"/>
<line x1="346.70" x2="346.70" y1="31.7" y2="243.3" stroke="#e2e2e2" stroke-width="0.8"/>
<line x1="372.92" x2="372.92" y1="31.7" y2="243.3" stroke="#e2e2e2" stroke-width="0.8"/>
<line x1="399.14" x2="399.14" y1="31.7" y2="243.3" stroke="#e2e2e2" stroke-width="0.8"/>
<line x1="425.36" x2="425.36" y1="31.7" y2="243.3" stroke="#e2e2e2" stroke-width="0.8"/>
<line x1="451.58" x2="451.58" y1="31.7" y2="243.3" stroke="#e2e2e2" stroke-width="0.8"/>
<polyline points="346.70,46.30 372.92,45.70 399.14,45.20 425.36,45.00 451.58,45.00" fill="none" stroke="#0000ff" stroke-width="2.15" stroke-linejoin="round"/>
<polygon points="346.70,42.61 343.42,48.12 349.98,48.12" fill="none" stroke="#0000ff" stroke-width="1.95" stroke-linejoin="miter"/>
<polygon points="372.92,42.01 369.64,47.53 376.20,47.53" fill="none" stroke="#0000ff" stroke-width="1.95" stroke-linejoin="miter"/>
<polygon points="399.14,41.51 395.86,47.03 402.42,47.03" fill="none" stroke="#0000ff" stroke-width="1.95" stroke-linejoin="miter"/>
<polygon points="425.36,41.31 422.08,46.83 428.64,46.83" fill="none" stroke="#0000ff" stroke-width="1.95" stroke-linejoin="miter"/>
<polygon points="451.58,41.31 448.30,46.83 454.86,46.83" fill="none" stroke="#0000ff" stroke-width="1.95" stroke-linejoin="miter"/>
<polyline points="346.70,46.30 372.92,45.70 399.14,45.20 425.36,45.00 451.58,45.00" fill="none" stroke="#ff0000" stroke-width="1.95" stroke-dasharray="1.9 1.8" stroke-linejoin="round"/>
<polyline points="346.70,61.80 372.92,61.40 399.14,58.30 425.36,47.40 451.58,46.50" fill="none" stroke="#000000" stroke-width="2.05" stroke-linejoin="round"/>
<polygon points="342.31,61.80 348.99,58.42 348.99,65.18" fill="none" stroke="#000000" stroke-width="1.75" stroke-linejoin="miter"/>
<polygon points="368.53,61.40 375.21,58.02 375.21,64.78" fill="none" stroke="#000000" stroke-width="1.75" stroke-linejoin="miter"/>
<polygon points="394.75,58.30 401.43,54.92 401.43,61.68" fill="none" stroke="#000000" stroke-width="1.75" stroke-linejoin="miter"/>
<polygon points="420.97,47.40 427.65,44.02 427.65,50.78" fill="none" stroke="#000000" stroke-width="1.75" stroke-linejoin="miter"/>
<polygon points="447.19,46.50 453.87,43.12 453.87,49.88" fill="none" stroke="#000000" stroke-width="1.75" stroke-linejoin="miter"/>
<polyline points="346.70,230.60 372.92,219.00 399.14,216.00 425.36,214.90 451.58,213.30" fill="none" stroke="#7e1e8e" stroke-width="2.15" stroke-linejoin="round"/>
<circle cx="346.70" cy="230.60" r="2.75" fill="none" stroke="#7e1e8e" stroke-width="2.00"/>
<circle cx="372.92" cy="219.00" r="2.75" fill="none" stroke="#7e1e8e" stroke-width="2.00"/>
<circle cx="399.14" cy="216.00" r="2.75" fill="none" stroke="#7e1e8e" stroke-width="2.00"/>
<circle cx="425.36" cy="214.90" r="2.75" fill="none" stroke="#7e1e8e" stroke-width="2.00"/>
<circle cx="451.58" cy="213.30" r="2.75" fill="none" stroke="#7e1e8e" stroke-width="2.00"/>
<polyline points="346.70,184.60 372.92,179.80 399.14,177.10 425.36,155.00 451.58,173.20" fill="none" stroke="#ffff00" stroke-width="2.15" stroke-linejoin="round"/>
<polygon points="346.70,180.91 343.42,186.42 349.98,186.42" fill="none" stroke="#ffff00" stroke-width="1.95" stroke-linejoin="miter"/>
<polygon points="372.92,176.11 369.64,181.62 376.20,181.62" fill="none" stroke="#ffff00" stroke-width="1.95" stroke-linejoin="miter"/>
<polygon points="399.14,173.41 395.86,178.92 402.42,178.92" fill="none" stroke="#ffff00" stroke-width="1.95" stroke-linejoin="miter"/>
<polygon points="425.36,151.31 422.08,156.82 428.64,156.82" fill="none" stroke="#ffff00" stroke-width="1.95" stroke-linejoin="miter"/>
<polygon points="451.58,169.51 448.30,175.02 454.86,175.02" fill="none" stroke="#ffff00" stroke-width="1.95" stroke-linejoin="miter"/>
<polyline points="346.70,230.00 372.92,209.80 399.14,206.50 425.36,201.00 451.58,198.80" fill="none" stroke="#00ffff" stroke-width="2.15" stroke-dasharray="1.9 1.8" stroke-linejoin="round"/>
<circle cx="346.70" cy="230.00" r="2.65" fill="none" stroke="#00ffff" stroke-width="2.30"/>
<circle cx="372.92" cy="209.80" r="2.65" fill="none" stroke="#00ffff" stroke-width="2.30"/>
<circle cx="399.14" cy="206.50" r="2.65" fill="none" stroke="#00ffff" stroke-width="2.30"/>
<circle cx="425.36" cy="201.00" r="2.65" fill="none" stroke="#00ffff" stroke-width="2.30"/>
<circle cx="451.58" cy="198.80" r="2.65" fill="none" stroke="#00ffff" stroke-width="2.30"/>
<polyline points="346.70,226.30 372.92,209.50 399.14,197.30 425.36,192.20 451.58,189.20" fill="none" stroke="#ff00ff" stroke-width="2.15" stroke-linejoin="round"/>
<polygon points="342.31,226.30 348.99,222.92 348.99,229.68" fill="none" stroke="#ff00ff" stroke-width="1.75" stroke-linejoin="miter"/>
<polygon points="368.53,209.50 375.21,206.12 375.21,212.88" fill="none" stroke="#ff00ff" stroke-width="1.75" stroke-linejoin="miter"/>
<polygon points="394.75,197.30 401.43,193.92 401.43,200.68" fill="none" stroke="#ff00ff" stroke-width="1.75" stroke-linejoin="miter"/>
<polygon points="420.97,192.20 427.65,188.82 427.65,195.58" fill="none" stroke="#ff00ff" stroke-width="1.75" stroke-linejoin="miter"/>
<polygon points="447.19,189.20 453.87,185.82 453.87,192.58" fill="none" stroke="#ff00ff" stroke-width="1.75" stroke-linejoin="miter"/>
<rect x="339.3" y="31.7" width="119.4" height="211.6" fill="none" stroke="#6a6a6a" stroke-width="0.8"/>
<line x1="346.70" x2="346.70" y1="243.3" y2="241.1" stroke="#6a6a6a" stroke-width="0.8"/>
<line x1="346.70" x2="346.70" y1="31.7" y2="33.9" stroke="#6a6a6a" stroke-width="0.8"/>
<line x1="372.92" x2="372.92" y1="243.3" y2="241.1" stroke="#6a6a6a" stroke-width="0.8"/>
<line x1="372.92" x2="372.92" y1="31.7" y2="33.9" stroke="#6a6a6a" stroke-width="0.8"/>
<line x1="399.14" x2="399.14" y1="243.3" y2="241.1" stroke="#6a6a6a" stroke-width="0.8"/>
<line x1="399.14" x2="399.14" y1="31.7" y2="33.9" stroke="#6a6a6a" stroke-width="0.8"/>
<line x1="425.36" x2="425.36" y1="243.3" y2="241.1" stroke="#6a6a6a" stroke-width="0.8"/>
<line x1="425.36" x2="425.36" y1="31.7" y2="33.9" stroke="#6a6a6a" stroke-width="0.8"/>
<line x1="451.58" x2="451.58" y1="243.3" y2="241.1" stroke="#6a6a6a" stroke-width="0.8"/>
<line x1="451.58" x2="451.58" y1="31.7" y2="33.9" stroke="#6a6a6a" stroke-width="0.8"/>
<line x1="339.3" x2="341.5" y1="227.77" y2="227.77" stroke="#6a6a6a" stroke-width="0.8"/>
<line x1="458.7" x2="456.5" y1="227.77" y2="227.77" stroke="#6a6a6a" stroke-width="0.8"/>
<line x1="339.3" x2="341.5" y1="176.68" y2="176.68" stroke="#6a6a6a" stroke-width="0.8"/>
<line x1="458.7" x2="456.5" y1="176.68" y2="176.68" stroke="#6a6a6a" stroke-width="0.8"/>
<line x1="339.3" x2="341.5" y1="140.44" y2="140.44" stroke="#6a6a6a" stroke-width="0.8"/>
<line x1="458.7" x2="456.5" y1="140.44" y2="140.44" stroke="#6a6a6a" stroke-width="0.8"/>
<line x1="339.3" x2="341.5" y1="112.32" y2="112.32" stroke="#6a6a6a" stroke-width="0.8"/>
<line x1="458.7" x2="456.5" y1="112.32" y2="112.32" stroke="#6a6a6a" stroke-width="0.8"/>
<line x1="339.3" x2="341.5" y1="89.35" y2="89.35" stroke="#6a6a6a" stroke-width="0.8"/>
<line x1="458.7" x2="456.5" y1="89.35" y2="89.35" stroke="#6a6a6a" stroke-width="0.8"/>
<line x1="339.3" x2="341.5" y1="69.92" y2="69.92" stroke="#6a6a6a" stroke-width="0.8"/>
<line x1="458.7" x2="456.5" y1="69.92" y2="69.92" stroke="#6a6a6a" stroke-width="0.8"/>
<line x1="339.3" x2="341.5" y1="53.10" y2="53.10" stroke="#6a6a6a" stroke-width="0.8"/>
<line x1="458.7" x2="456.5" y1="53.10" y2="53.10" stroke="#6a6a6a" stroke-width="0.8"/>
<line x1="339.3" x2="341.5" y1="38.26" y2="38.26" stroke="#6a6a6a" stroke-width="0.8"/>
<line x1="458.7" x2="456.5" y1="38.26" y2="38.26" stroke="#6a6a6a" stroke-width="0.8"/>
<line x1="339.3" x2="340.5" y1="241.05" y2="241.05" stroke="#6a6a6a" stroke-width="0.6"/>
<line x1="458.7" x2="457.5" y1="241.05" y2="241.05" stroke="#6a6a6a" stroke-width="0.6"/>
<line x1="339.3" x2="340.5" y1="215.76" y2="215.76" stroke="#6a6a6a" stroke-width="0.6"/>
<line x1="458.7" x2="457.5" y1="215.76" y2="215.76" stroke="#6a6a6a" stroke-width="0.6"/>
<line x1="339.3" x2="340.5" y1="204.80" y2="204.80" stroke="#6a6a6a" stroke-width="0.6"/>
<line x1="458.7" x2="457.5" y1="204.80" y2="204.80" stroke="#6a6a6a" stroke-width="0.6"/>
<line x1="339.3" x2="340.5" y1="194.72" y2="194.72" stroke="#6a6a6a" stroke-width="0.6"/>
<line x1="458.7" x2="457.5" y1="194.72" y2="194.72" stroke="#6a6a6a" stroke-width="0.6"/>
<line x1="339.3" x2="340.5" y1="185.38" y2="185.38" stroke="#6a6a6a" stroke-width="0.6"/>
<line x1="458.7" x2="457.5" y1="185.38" y2="185.38" stroke="#6a6a6a" stroke-width="0.6"/>
<line x1="339.3" x2="340.5" y1="168.55" y2="168.55" stroke="#6a6a6a" stroke-width="0.6"/>
<line x1="458.7" x2="457.5" y1="168.55" y2="168.55" stroke="#6a6a6a" stroke-width="0.6"/>
<line x1="339.3" x2="340.5" y1="160.91" y2="160.91" stroke="#6a6a6a" stroke-width="0.6"/>
<line x1="458.7" x2="457.5" y1="160.91" y2="160.91" stroke="#6a6a6a" stroke-width="0.6"/>
<line x1="339.3" x2="340.5" y1="153.71" y2="153.71" stroke="#6a6a6a" stroke-width="0.6"/>
<line x1="458.7" x2="457.5" y1="153.71" y2="153.71" stroke="#6a6a6a" stroke-width="0.6"/>
<line x1="339.3" x2="340.5" y1="146.90" y2="146.90" stroke="#6a6a6a" stroke-width="0.6"/>
<line x1="458.7" x2="457.5" y1="146.90" y2="146.90" stroke="#6a6a6a" stroke-width="0.6"/>
<line x1="339.3" x2="340.5" y1="134.29" y2="134.29" stroke="#6a6a6a" stroke-width="0.6"/>
<line x1="458.7" x2="457.5" y1="134.29" y2="134.29" stroke="#6a6a6a" stroke-width="0.6"/>
<line x1="339.3" x2="340.5" y1="128.43" y2="128.43" stroke="#6a6a6a" stroke-width="0.6"/>
<line x1="458.7" x2="457.5" y1="128.43" y2="128.43" stroke="#6a6a6a" stroke-width="0.6"/>
<line x1="339.3" x2="340.5" y1="122.83" y2="122.83" stroke="#6a6a6a" stroke-width="0.6"/>
<line x1="458.7" x2="457.5" y1="122.83" y2="122.83" stroke="#6a6a6a" stroke-width="0.6"/>
<line x1="339.3" x2="340.5" y1="117.46" y2="117.46" stroke="#6a6a6a" stroke-width="0.6"/>
<line x1="458.7" x2="457.5" y1="117.46" y2="117.46" stroke="#6a6a6a" stroke-width="0.6"/>
<line x1="339.3" x2="340.5" y1="107.38" y2="107.38" stroke="#6a6a6a" stroke-width="0.6"/>
<line x1="458.7" x2="457.5" y1="107.38" y2="107.38" stroke="#6a6a6a" stroke-width="0.6"/>
<line x1="339.3" x2="340.5" y1="102.62" y2="102.62" stroke="#6a6a6a" stroke-width="0.6"/>
<line x1="458.7" x2="457.5" y1="102.62" y2="102.62" stroke="#6a6a6a" stroke-width="0.6"/>
<line x1="339.3" x2="340.5" y1="98.04" y2="98.04" stroke="#6a6a6a" stroke-width="0.6"/>
<line x1="458.7" x2="457.5" y1="98.04" y2="98.04" stroke="#6a6a6a" stroke-width="0.6"/>
<line x1="339.3" x2="340.5" y1="93.62" y2="93.62" stroke="#6a6a6a" stroke-width="0.6"/>
<line x1="458.7" x2="457.5" y1="93.62" y2="93.62" stroke="#6a6a6a" stroke-width="0.6"/>
<line x1="339.3" x2="340.5" y1="85.22" y2="85.22" stroke="#6a6a6a" stroke-width="0.6"/>
<line x1="458.7" x2="457.5" y1="85.22" y2="85.22" stroke="#6a6a6a" stroke-width="0.6"/>
<line x1="339.3" x2="340.5" y1="81.22" y2="81.22" stroke="#6a6a6a" stroke-width="0.6"/>
<line x1="458.7" x2="457.5" y1="81.22" y2="81.22" stroke="#6a6a6a" stroke-width="0.6"/>
<line x1="339.3" x2="340.5" y1="77.34" y2="77.34" stroke="#6a6a6a" stroke-width="0.6"/>
<line x1="458.7" x2="457.5" y1="77.34" y2="77.34" stroke="#6a6a6a" stroke-width="0.6"/>
<line x1="339.3" x2="340.5" y1="73.58" y2="73.58" stroke="#6a6a6a" stroke-width="0.6"/>
<line x1="458.7" x2="457.5" y1="73.58" y2="73.58" stroke="#6a6a6a" stroke-width="0.6"/>
<line x1="339.3" x2="340.5" y1="66.38" y2="66.38" stroke="#6a6a6a" stroke-width="0.6"/>
<line x1="458.7" x2="457.5" y1="66.38" y2="66.38" stroke="#6a6a6a" stroke-width="0.6"/>
<line x1="339.3" x2="340.5" y1="62.92" y2="62.92" stroke="#6a6a6a" stroke-width="0.6"/>
<line x1="458.7" x2="457.5" y1="62.92" y2="62.92" stroke="#6a6a6a" stroke-width="0.6"/>
<line x1="339.3" x2="340.5" y1="59.56" y2="59.56" stroke="#6a6a6a" stroke-width="0.6"/>
<line x1="458.7" x2="457.5" y1="59.56" y2="59.56" stroke="#6a6a6a" stroke-width="0.6"/>
<line x1="339.3" x2="340.5" y1="56.29" y2="56.29" stroke="#6a6a6a" stroke-width="0.6"/>
<line x1="458.7" x2="457.5" y1="56.29" y2="56.29" stroke="#6a6a6a" stroke-width="0.6"/>
<line x1="339.3" x2="340.5" y1="49.99" y2="49.99" stroke="#6a6a6a" stroke-width="0.6"/>
<line x1="458.7" x2="457.5" y1="49.99" y2="49.99" stroke="#6a6a6a" stroke-width="0.6"/>
<line x1="339.3" x2="340.5" y1="46.95" y2="46.95" stroke="#6a6a6a" stroke-width="0.6"/>
<line x1="458.7" x2="457.5" y1="46.95" y2="46.95" stroke="#6a6a6a" stroke-width="0.6"/>
<line x1="339.3" x2="340.5" y1="43.99" y2="43.99" stroke="#6a6a6a" stroke-width="0.6"/>
<line x1="458.7" x2="457.5" y1="43.99" y2="43.99" stroke="#6a6a6a" stroke-width="0.6"/>
<line x1="339.3" x2="340.5" y1="41.09" y2="41.09" stroke="#6a6a6a" stroke-width="0.6"/>
<line x1="458.7" x2="457.5" y1="41.09" y2="41.09" stroke="#6a6a6a" stroke-width="0.6"/>
<line x1="339.3" x2="340.5" y1="35.49" y2="35.49" stroke="#6a6a6a" stroke-width="0.6"/>
<line x1="458.7" x2="457.5" y1="35.49" y2="35.49" stroke="#6a6a6a" stroke-width="0.6"/>
<line x1="339.3" x2="340.5" y1="32.78" y2="32.78" stroke="#6a6a6a" stroke-width="0.6"/>
<line x1="458.7" x2="457.5" y1="32.78" y2="32.78" stroke="#6a6a6a" stroke-width="0.6"/>
<text x="336.9" y="41.46" font-size="8.3" text-anchor="end" fill="#484848" stroke="#484848" stroke-width="0.2">900</text>
<text x="336.9" y="56.30" font-size="8.3" text-anchor="end" fill="#484848" stroke="#484848" stroke-width="0.2">800</text>
<text x="336.9" y="73.12" font-size="8.3" text-anchor="end" fill="#484848" stroke="#484848" stroke-width="0.2">700</text>
<text x="336.9" y="92.55" font-size="8.3" text-anchor="end" fill="#484848" stroke="#484848" stroke-width="0.2">600</text>
<text x="336.9" y="115.52" font-size="8.3" text-anchor="end" fill="#484848" stroke="#484848" stroke-width="0.2">500</text>
<text x="336.9" y="143.64" font-size="8.3" text-anchor="end" fill="#484848" stroke="#484848" stroke-width="0.2">400</text>
<text x="336.9" y="179.88" font-size="8.3" text-anchor="end" fill="#484848" stroke="#484848" stroke-width="0.2">300</text>
<text x="336.9" y="230.97" font-size="8.3" text-anchor="end" fill="#484848" stroke="#484848" stroke-width="0.2">200</text>
<text x="346.70" y="254.5" font-size="8.3" text-anchor="middle" fill="#484848" stroke="#484848" stroke-width="0.2">10</text>
<text x="372.92" y="254.5" font-size="8.3" text-anchor="middle" fill="#484848" stroke="#484848" stroke-width="0.2">20</text>
<text x="399.14" y="254.5" font-size="8.3" text-anchor="middle" fill="#484848" stroke="#484848" stroke-width="0.2">30</text>
<text x="425.36" y="254.5" font-size="8.3" text-anchor="middle" fill="#484848" stroke="#484848" stroke-width="0.2">40</text>
<text x="451.58" y="254.5" font-size="8.3" text-anchor="middle" fill="#484848" stroke="#484848" stroke-width="0.2">50</text>
<text x="399.00" y="29.1" font-size="9.23" font-weight="bold" text-anchor="middle" fill="#111">Speed 60 (m/s)</text>
<text x="399.00" y="266.3" font-size="11.1" font-weight="bold" text-anchor="middle" fill="#111">Nodes</text>
<text transform="translate(319.80,137.2) rotate(-90)" font-size="10.75" font-weight="bold" text-anchor="middle" fill="#111">Througput[kbps]</text>
</g>
<rect x="475.6" y="100.3" width="70.9" height="74.8" fill="#fff" stroke="#6a6a6a" stroke-width="0.7"/>
<line x1="478.3" x2="509.7" y1="107.10" y2="107.10" stroke="#0000ff" stroke-width="2.15"/>
<polygon points="494.10,103.63 490.94,108.79 497.26,108.79" fill="none" stroke="#0000ff" stroke-width="1.95" stroke-linejoin="miter"/>
<text x="512.6" y="110.20" font-size="8.35" fill="#1a1a1a" stroke="#1a1a1a" stroke-width="0.2">PHCR</text>
<line x1="478.3" x2="509.7" y1="117.37" y2="117.37" stroke="#ff0000" stroke-width="1.95" stroke-dasharray="1.9 1.8"/>
<text x="512.6" y="120.47" font-size="8.35" fill="#1a1a1a" stroke="#1a1a1a" stroke-width="0.2">PHCC</text>
<line x1="478.3" x2="509.7" y1="127.64" y2="127.64" stroke="#000000" stroke-width="2.05"/>
<polygon points="490.64,127.64 495.83,124.61 495.83,130.67" fill="none" stroke="#000000" stroke-width="1.75" stroke-linejoin="miter"/>
<text x="512.6" y="130.74" font-size="8.35" fill="#1a1a1a" stroke="#1a1a1a" stroke-width="0.2">PHCS</text>
<line x1="478.3" x2="509.7" y1="137.91" y2="137.91" stroke="#7e1e8e" stroke-width="2.15"/>
<circle cx="494.10" cy="137.91" r="2.77" fill="none" stroke="#7e1e8e" stroke-width="1.55"/>
<text x="512.6" y="141.01" font-size="8.35" fill="#1a1a1a" stroke="#1a1a1a" stroke-width="0.2">AODV</text>
<line x1="478.3" x2="509.7" y1="148.18" y2="148.18" stroke="#ffff00" stroke-width="2.15"/>
<polygon points="494.10,144.71 490.94,149.87 497.26,149.87" fill="none" stroke="#ffff00" stroke-width="1.95" stroke-linejoin="miter"/>
<text x="512.6" y="151.28" font-size="8.35" fill="#1a1a1a" stroke="#1a1a1a" stroke-width="0.2">GEOD</text>
<line x1="478.3" x2="509.7" y1="158.45" y2="158.45" stroke="#00ffff" stroke-width="2.15" stroke-dasharray="1.9 1.8"/>
<circle cx="494.10" cy="158.45" r="2.75" fill="none" stroke="#00ffff" stroke-width="2.30"/>
<text x="512.6" y="161.55" font-size="8.35" fill="#1a1a1a" stroke="#1a1a1a" stroke-width="0.2">GEOC</text>
<line x1="478.3" x2="509.7" y1="168.72" y2="168.72" stroke="#ff00ff" stroke-width="2.15"/>
<polygon points="490.64,168.72 495.83,165.69 495.83,171.75" fill="none" stroke="#ff00ff" stroke-width="1.75" stroke-linejoin="miter"/>
<text x="512.6" y="171.82" font-size="8.35" fill="#1a1a1a" stroke="#1a1a1a" stroke-width="0.2">GEOMF</text>
</svg>
</body></html>
